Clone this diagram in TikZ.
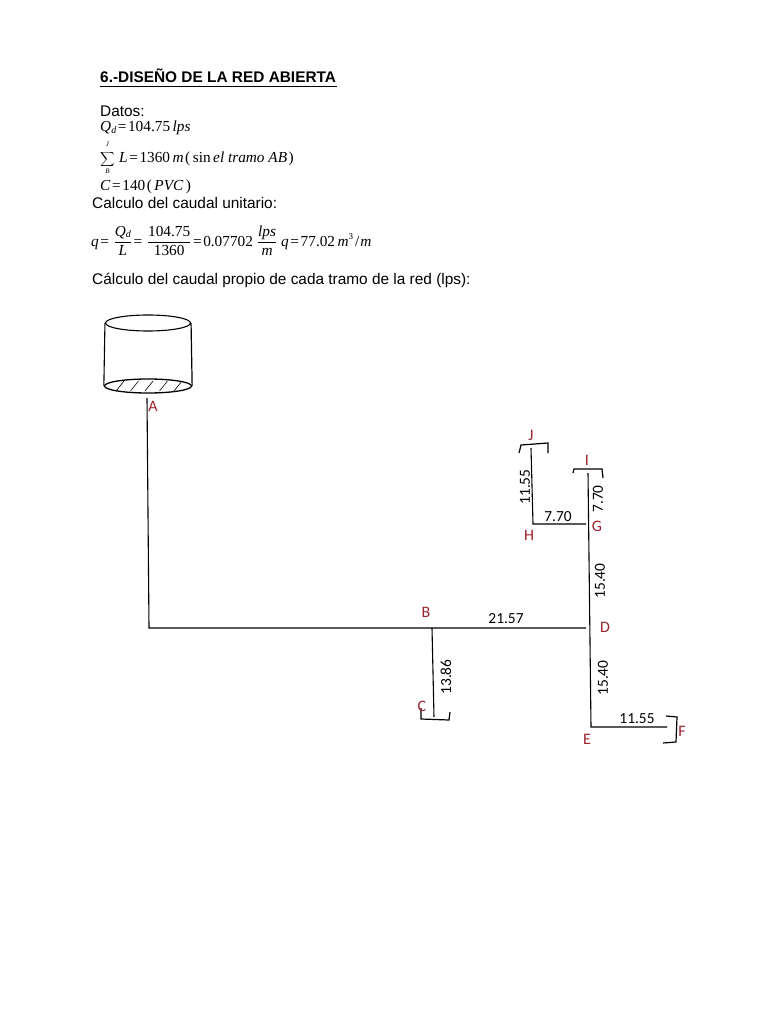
\documentclass[tikz,border=0pt]{standalone}
\usepackage{fontspec}
\setmainfont{Liberation Serif}
\setsansfont{Liberation Sans}
\newfontfamily\calibri{Carlito}
\usetikzlibrary{shapes.geometric}
\definecolor{letra}{RGB}{155,35,45}
\newcommand{\ser}[1]{\hbox{\fontsize{15.3}{17}\selectfont #1}}
\newcommand{\sit}[1]{\hbox{\fontsize{15.3}{17}\selectfont\itshape #1}}
\newcommand{\peq}[1]{\hbox{\fontsize{7}{8}\selectfont\itshape #1}}
\newcommand{\igual}{\kern1.6pt=\kern1.6pt}
\begin{document}
\begin{tikzpicture}[x=1pt,y=-1pt]

    % Styles des noeuds
    \tikzstyle{titulo} = [anchor=base west, inner sep=0pt, font=\sffamily\bfseries\fontsize{15.4}{18}\selectfont]
    \tikzstyle{texto} = [anchor=base west, inner sep=0pt, font=\sffamily\fontsize{15.4}{18}\selectfont]
    \tikzstyle{formula} = [anchor=base west, inner sep=0pt, font=\fontsize{15.3}{17}\selectfont]
    \tikzstyle{letra} = [inner sep=0pt, text=letra, font=\calibri\fontsize{16}{18}\selectfont]
    \tikzstyle{valor} = [inner sep=0pt, font=\calibri\fontsize{15.4}{18}\selectfont]
    \tikzstyle{tubo} = [black, line width=1.1pt]
    \tikzstyle{tapon} = [black, line width=1.2pt]

    \useasboundingbox (0,0) rectangle (768,1024);
    \fill[white] (0,0) rectangle (768,1024);

    % Textes
    \node (titulo) [titulo] at (100,83) {6.-DISEÑO DE LA RED ABIERTA};
    \draw[line width=1.7pt] (100,86.5) -- (337,86.5);
    \node (datos) [texto] at (100,117) {Datos:};
    \node (qd) [formula] at (100,132) {\textit{Q}\raisebox{-2pt}{\fontsize{10}{11}\selectfont\textit{d}}\igual 104.75\,\textit{lps}};
    \node (suma) [formula] at (100,163) {$\displaystyle\sum_{\peq{B}}^{\raisebox{3pt}{\peq{J}}}$};
    \node (largo) [formula] at (119,163) {\textit{L}\igual 1360\,\textit{m}\kern1.5pt(\kern2.5pt sin\,\textit{el tramo AB}\kern1.5pt)};
    \node (ce) [formula] at (100,191) {\textit{C}\igual 140\kern1.5pt(\kern2.5pt\textit{PVC}\kern2.5pt)};
    \node (calculo) [texto] at (92,209) {Calculo del caudal unitario:};
    \node (q) [formula] at (91,246) {\textit{q}\igual\kern3pt$\displaystyle\frac{\sit{Q\raisebox{-1pt}{\fontsize{10}{11}\selectfont d}}}{\sit{L}}$\igual\kern3pt$\displaystyle\frac{\ser{104.75}}{\ser{1360}}$\igual 0.07702\kern4pt$\displaystyle\frac{\sit{lps}}{\sit{m}}$\kern4pt\textit{q}\igual 77.02\,\textit{m}\raisebox{6pt}{\fontsize{9}{10}\selectfont 3}\kern2pt/\kern1pt\textit{m}};
    \node (propio) [texto] at (92,284) {Cálculo del caudal propio de cada tramo de la red (lps):};

    % Noeuds
    \node (tapa) [ellipse, draw, line width=1.1pt, minimum width=85pt, minimum height=16pt, inner sep=0pt] at (148,323) {};
    \node (base) [ellipse, draw, line width=1.3pt, minimum width=87pt, minimum height=14pt, inner sep=0pt] at (148,386) {};
    \coordinate (a) at (147,398);
    \coordinate (esq) at (149,628);
    \coordinate (b) at (432,628);
    \coordinate (d) at (586,628);
    \coordinate (c) at (434,717);
    \coordinate (i) at (588,473);
    \coordinate (e) at (591,727);
    \coordinate (f) at (667,727);
    \coordinate (g) at (586,524);
    \coordinate (h) at (533,524);
    \coordinate (j) at (531,448);

    % Réservoir
    \draw[line width=1.1pt] (tapa.west) -- (base.west);
    \draw[line width=1.2pt] (tapa.east) -- (base.east);
    \foreach \x in {0,1,2,3,4}
        \draw[line width=0.6pt] (116+\x*14.5,391) -- (124+\x*14.5,381);

    % Tuyaux
    \draw [tubo] (a) -- (esq) -- (d);
    \draw [tubo] (b) -- (c);
    \draw [tubo] (i) -- (e) -- (f);
    \draw [tubo] (j) -- (h) -- (g);

    % Bouchons
    \draw [tapon] (421,708) -- (421,719) -- (449,720) -- (450,712);
    \draw [tapon] (666,716) -- (677,717) -- (676,742) -- (663,743);
    \draw [tapon] (519,453) -- (521,445) -- (548,443) -- (548,453);
    \draw [tapon] (573,473) -- (574,469) -- (602,469) -- (603,478);

    % Annotations
    \node (la) [letra] at (153,406) {A};
    \node (lb) [letra] at (426,612) {B};
    \node (lc) [letra] at (422,706) {C};
    \node (ld) [letra] at (605,627) {D};
    \node (le) [letra] at (587,739) {E};
    \node (lf) [letra] at (682,731) {F};
    \node (lg) [letra] at (597,526) {G};
    \node (lh) [letra] at (529,535) {H};
    \node (li) [letra] at (587,460) {I};
    \node (lj) [letra] at (531,435) {J};
    \node (v1) [valor] at (506,619) {21.57};
    \node (v2) [valor, rotate=90] at (446,677) {13.86};
    \node (v3) [valor, rotate=90] at (603,678) {15.40};
    \node (v4) [valor, rotate=90] at (600,581) {15.40};
    \node (v5) [valor] at (637,719) {11.55};
    \node (v6) [valor] at (558,517) {7.70};
    \node (v7) [valor, rotate=90] at (598,499) {7.70};
    \node (v8) [valor, rotate=90] at (525,487) {11.55};

\end{tikzpicture}
\end{document}
